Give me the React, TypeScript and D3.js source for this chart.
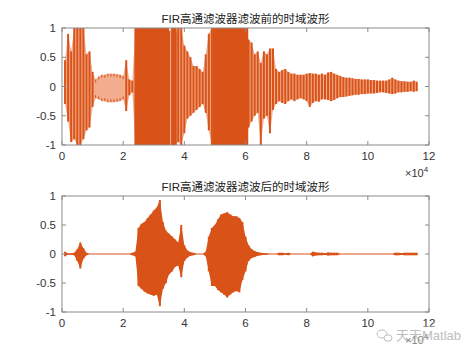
import * as d3 from "d3";

// sample positions along x, in units of 10^4 samples
const SAMPLE_X = d3.range(1, 117).map((i) => i / 10);

// signal before filtering: upper / lower extent per sample block
const BEFORE_HI = [
  0.45, 0.9, 0.6, 1, 1, 1, 1, 0.55, 0.6, 0.25,
  0.12, 0.17, 0.2, 0.2, 0.22, 0.22, 0.22, 0.21, 0.2, 0.18,
  0.45, 0.12, 0.1, 1, 1, 1, 1, 1, 1, 1,
  1, 1, 1, 1, 0.95, 1, 0.9, 1, 1, 0.7,
  0.6, 0.5, 0.35, 0.35, 0.3, 0.25, 0.55, 0.9, 1, 1,
  1, 1, 1, 1, 1, 1, 1, 1, 1, 1,
  0.8, 0.75, 0.55, 0.6, 0.4, 0.6, 0.55, 0.65, 0.65, 0.3,
  0.25, 0.28, 0.3, 0.25, 0.22, 0.22, 0.2, 0.2, 0.2, 0.22,
  0.23, 0.22, 0.22, 0.2, 0.22, 0.2, 0.24, 0.25, 0.22, 0.2,
  0.18, 0.16, 0.15, 0.15, 0.14, 0.13, 0.13, 0.12, 0.12, 0.12,
  0.11, 0.11, 0.1, 0.1, 0.1, 0.1, 0.12, 0.15, 0.12, 0.1,
  0.09, 0.09, 0.08, 0.08, 0.1, 0.08,
];
const BEFORE_LO = [
  -0.3, -0.6, -0.95, -0.9, -1, -1, -0.9, -0.75, -0.7, -0.35,
  -0.2, -0.22, -0.25, -0.25, -0.27, -0.27, -0.27, -0.26, -0.25, -0.22,
  -0.42, -0.15, -0.1, -1, -1, -1, -1, -1, -1, -1,
  -1, -1, -1, -1, -1, -1, -1, -0.95, -1, -0.8,
  -0.55, -0.5, -0.45, -0.4, -0.35, -0.3, -0.45, -0.75, -1, -1,
  -1, -1, -1, -1, -1, -1, -1, -1, -1, -1,
  -0.7, -0.6, -0.5, -0.45, -1, -0.55, -0.5, -0.8, -0.4, -0.3,
  -0.25, -0.28, -0.3, -0.25, -0.22, -0.25, -0.22, -0.2, -0.22, -0.25,
  -0.35, -0.28, -0.25, -0.26, -0.22, -0.22, -0.23, -0.25, -0.23, -0.2,
  -0.18, -0.18, -0.17, -0.16, -0.15, -0.14, -0.14, -0.13, -0.13, -0.12,
  -0.12, -0.12, -0.11, -0.1, -0.1, -0.11, -0.12, -0.13, -0.12, -0.1,
  -0.1, -0.09, -0.09, -0.08, -0.09, -0.08,
];
// saturated stretches and the pale low-level stretch
const BEFORE_SOLID = [[2.4, 3.5], [3.6, 3.75], [4.93, 6.09]];
const BEFORE_PALE = [[1.05, 2.05]];

// signal after filtering
const AFTER_HI = [
  0.04, 0.01, 0.01, 0.02, 0.08, 0.2, 0.1, 0.02, 0, 0,
  0, 0, 0, 0, 0, 0, 0, 0, 0, 0,
  0, 0, 0.02, 0.04, 0.45, 0.52, 0.55, 0.62, 0.68, 0.75,
  0.8, 0.93, 0.55, 0.4, 0.35, 0.3, 0.25, 0.2, 0.5, 0.15,
  0.06, 0.03, 0.02, 0, 0, 0, 0.04, 0.3, 0.45, 0.5,
  0.6, 0.68, 0.7, 0.72, 0.68, 0.65, 0.65, 0.62, 0.55, 0.3,
  0.15, 0.08, 0.05, 0.03, 0.02, 0.015, 0.01, 0, 0, 0,
  0.02, 0.02, 0.01, 0.02, 0, 0, 0, 0, 0, 0,
  0, 0.04, 0.025, 0.02, 0.02, 0.015, 0.025, 0.02, 0.02, 0.02,
  0, 0, 0, 0, 0, 0, 0, 0, 0, 0,
  0, 0, 0, 0, 0, 0, 0, 0, 0.02, 0.02,
  0.015, 0.02, 0.02, 0.02, 0.02, 0.02,
];
const AFTER_LO = [
  -0.04, -0.01, -0.01, -0.02, -0.12, -0.25, -0.08, -0.02, 0, 0,
  0, 0, 0, 0, 0, 0, 0, 0, 0, 0,
  0, 0, -0.02, -0.04, -0.55, -0.6, -0.65, -0.68, -0.7, -0.72,
  -0.7, -0.9, -0.6, -0.5, -0.35, -0.3, -0.22, -0.2, -0.4, -0.12,
  -0.06, -0.03, -0.02, 0, 0, 0, -0.04, -0.3, -0.55, -0.55,
  -0.62, -0.66, -0.7, -0.75, -0.7, -0.66, -0.64, -0.66, -0.45, -0.3,
  -0.12, -0.07, -0.05, -0.03, -0.02, -0.015, -0.01, 0, 0, 0,
  -0.02, -0.02, -0.01, -0.02, 0, 0, 0, 0, 0, 0,
  0, -0.04, -0.025, -0.02, -0.02, -0.015, -0.025, -0.02, -0.02, -0.02,
  0, 0, 0, 0, 0, 0, 0, 0, 0, 0,
  0, 0, 0, 0, 0, 0, 0, 0, -0.02, -0.02,
  -0.015, -0.02, -0.02, -0.02, -0.02, -0.02,
];

const X_TICKS = [0, 2, 4, 6, 8, 10, 12];
const Y_TICKS = [-1, -0.5, 0, 0.5, 1];
const TITLES = ["FIR高通滤波器滤波前的时域波形", "FIR高通滤波器滤波后的时域波形"];

const W = 474;
const H = 355;
const LEFT = 62;
const RIGHT = 429;
const PANELS = [
  { top: 28, bottom: 145 },
  { top: 196, bottom: 312 },
];
const DARK = "#D95319";
const PALE = "#F2AC8E";
const FONT = "'Liberation Sans', Arial, 'Noto Sans CJK SC', sans-serif";

type Row = { x: number; hi: number; lo: number };

const Panel = ({ idx, rows, solid, pale, spikeW, fill }: {
  idx: number; rows: Row[]; solid: number[][]; pale: number[][]; spikeW: number; fill: string;
}) => {
  const { top, bottom } = PANELS[idx];
  const x = d3.scaleLinear().domain([0, 12]).range([LEFT, RIGHT]);
  const y = d3.scaleLinear().domain([-1, 1]).range([bottom, top]);
  const area = d3.area<Row>().x(d => x(d.x)).y0(d => y(d.lo)).y1(d => y(d.hi));
  const inPale = (v: number) => pale.some(([a, b]) => v >= a && v <= b);
  const clipId = `clip${idx}`;

  return (
    <g>
      <defs>
        <clipPath id={clipId}>
          <rect x={LEFT} y={top} width={RIGHT - LEFT} height={bottom - top} />
        </clipPath>
      </defs>
      <g clipPath={`url(#${clipId})`}>
        <line x1={x(rows[0].x)} x2={x(rows[rows.length - 1].x)} y1={y(0)} y2={y(0)}
          stroke={DARK} strokeWidth={1} />
        <path d={area(rows) ?? ""} fill={fill} />
        {rows.map((d, i) => inPale(d.x) ? (
          <g key={i}>
            <line x1={x(d.x)} x2={x(d.x)} y1={y(d.hi)} y2={y(d.hi) + 3} stroke={DARK} strokeWidth={1} />
            <line x1={x(d.x)} x2={x(d.x)} y1={y(d.lo)} y2={y(d.lo) - 3} stroke={DARK} strokeWidth={1} />
          </g>
        ) : (
          <line key={i} x1={x(d.x)} x2={x(d.x)} y1={y(d.hi)} y2={y(d.lo)}
            stroke={DARK} strokeWidth={spikeW} />
        ))}
        {solid.map(([a, b], i) => (
          <rect key={i} x={x(a)} width={x(b) - x(a)} y={y(1)} height={y(-1) - y(1)} fill={DARK} />
        ))}
      </g>
      <rect x={LEFT} y={top} width={RIGHT - LEFT} height={bottom - top}
        fill="none" stroke="#8a8a8a" strokeWidth={1} />
      {X_TICKS.map(t => (
        <g key={t}>
          <line x1={x(t)} x2={x(t)} y1={bottom} y2={bottom - 4} stroke="#8a8a8a" />
          <line x1={x(t)} x2={x(t)} y1={top} y2={top + 4} stroke="#8a8a8a" />
          <text x={x(t)} y={bottom + 15} textAnchor="middle" fontSize={11.5} fill="#333">{t}</text>
        </g>
      ))}
      {Y_TICKS.map(t => (
        <g key={t}>
          <line x1={LEFT} x2={LEFT + 4} y1={y(t)} y2={y(t)} stroke="#8a8a8a" />
          <line x1={RIGHT} x2={RIGHT - 4} y1={y(t)} y2={y(t)} stroke="#8a8a8a" />
          <text x={LEFT - 6} y={y(t) + 4} textAnchor="end" fontSize={11.5} fill="#333">{t}</text>
        </g>
      ))}
      <text x={(LEFT + RIGHT) / 2} y={top - 5} textAnchor="middle" fontSize={11.5} fill="#222">
        {TITLES[idx]}
      </text>
      <text x={405} y={bottom + 32} fontSize={11} fill="#333">
        ×10<tspan dy={-5} fontSize={8}>4</tspan>
      </text>
    </g>
  );
};

export default function App() {
  const before = SAMPLE_X.map((v, i) => ({ x: v, hi: BEFORE_HI[i], lo: BEFORE_LO[i] }));
  const after = SAMPLE_X.map((v, i) => ({ x: v, hi: AFTER_HI[i], lo: AFTER_LO[i] }));
  return (
    <svg width={W} height={H} style={{ position: "absolute", left: 0, top: 0, background: "#fff" }}
      fontFamily={FONT}>
      <Panel idx={0} rows={before} solid={BEFORE_SOLID} pale={BEFORE_PALE} spikeW={2} fill={PALE} />
      <Panel idx={1} rows={after} solid={[]} pale={[]} spikeW={2} fill={DARK} />
      <g opacity={0.75}>
        <rect x={374} y={326} width={86} height={18} fill="#fff" opacity={0.5} />
        <ellipse cx={382} cy={334} rx={5} ry={4} fill="none" stroke="#aaa" strokeWidth={1} />
        <ellipse cx={388} cy={338} rx={4} ry={3.2} fill="#fff" stroke="#aaa" strokeWidth={1} />
        <text x={396} y={340} fontSize={13} fill="#a8a8a8">天天Matlab</text>
      </g>
    </svg>
  );
}
